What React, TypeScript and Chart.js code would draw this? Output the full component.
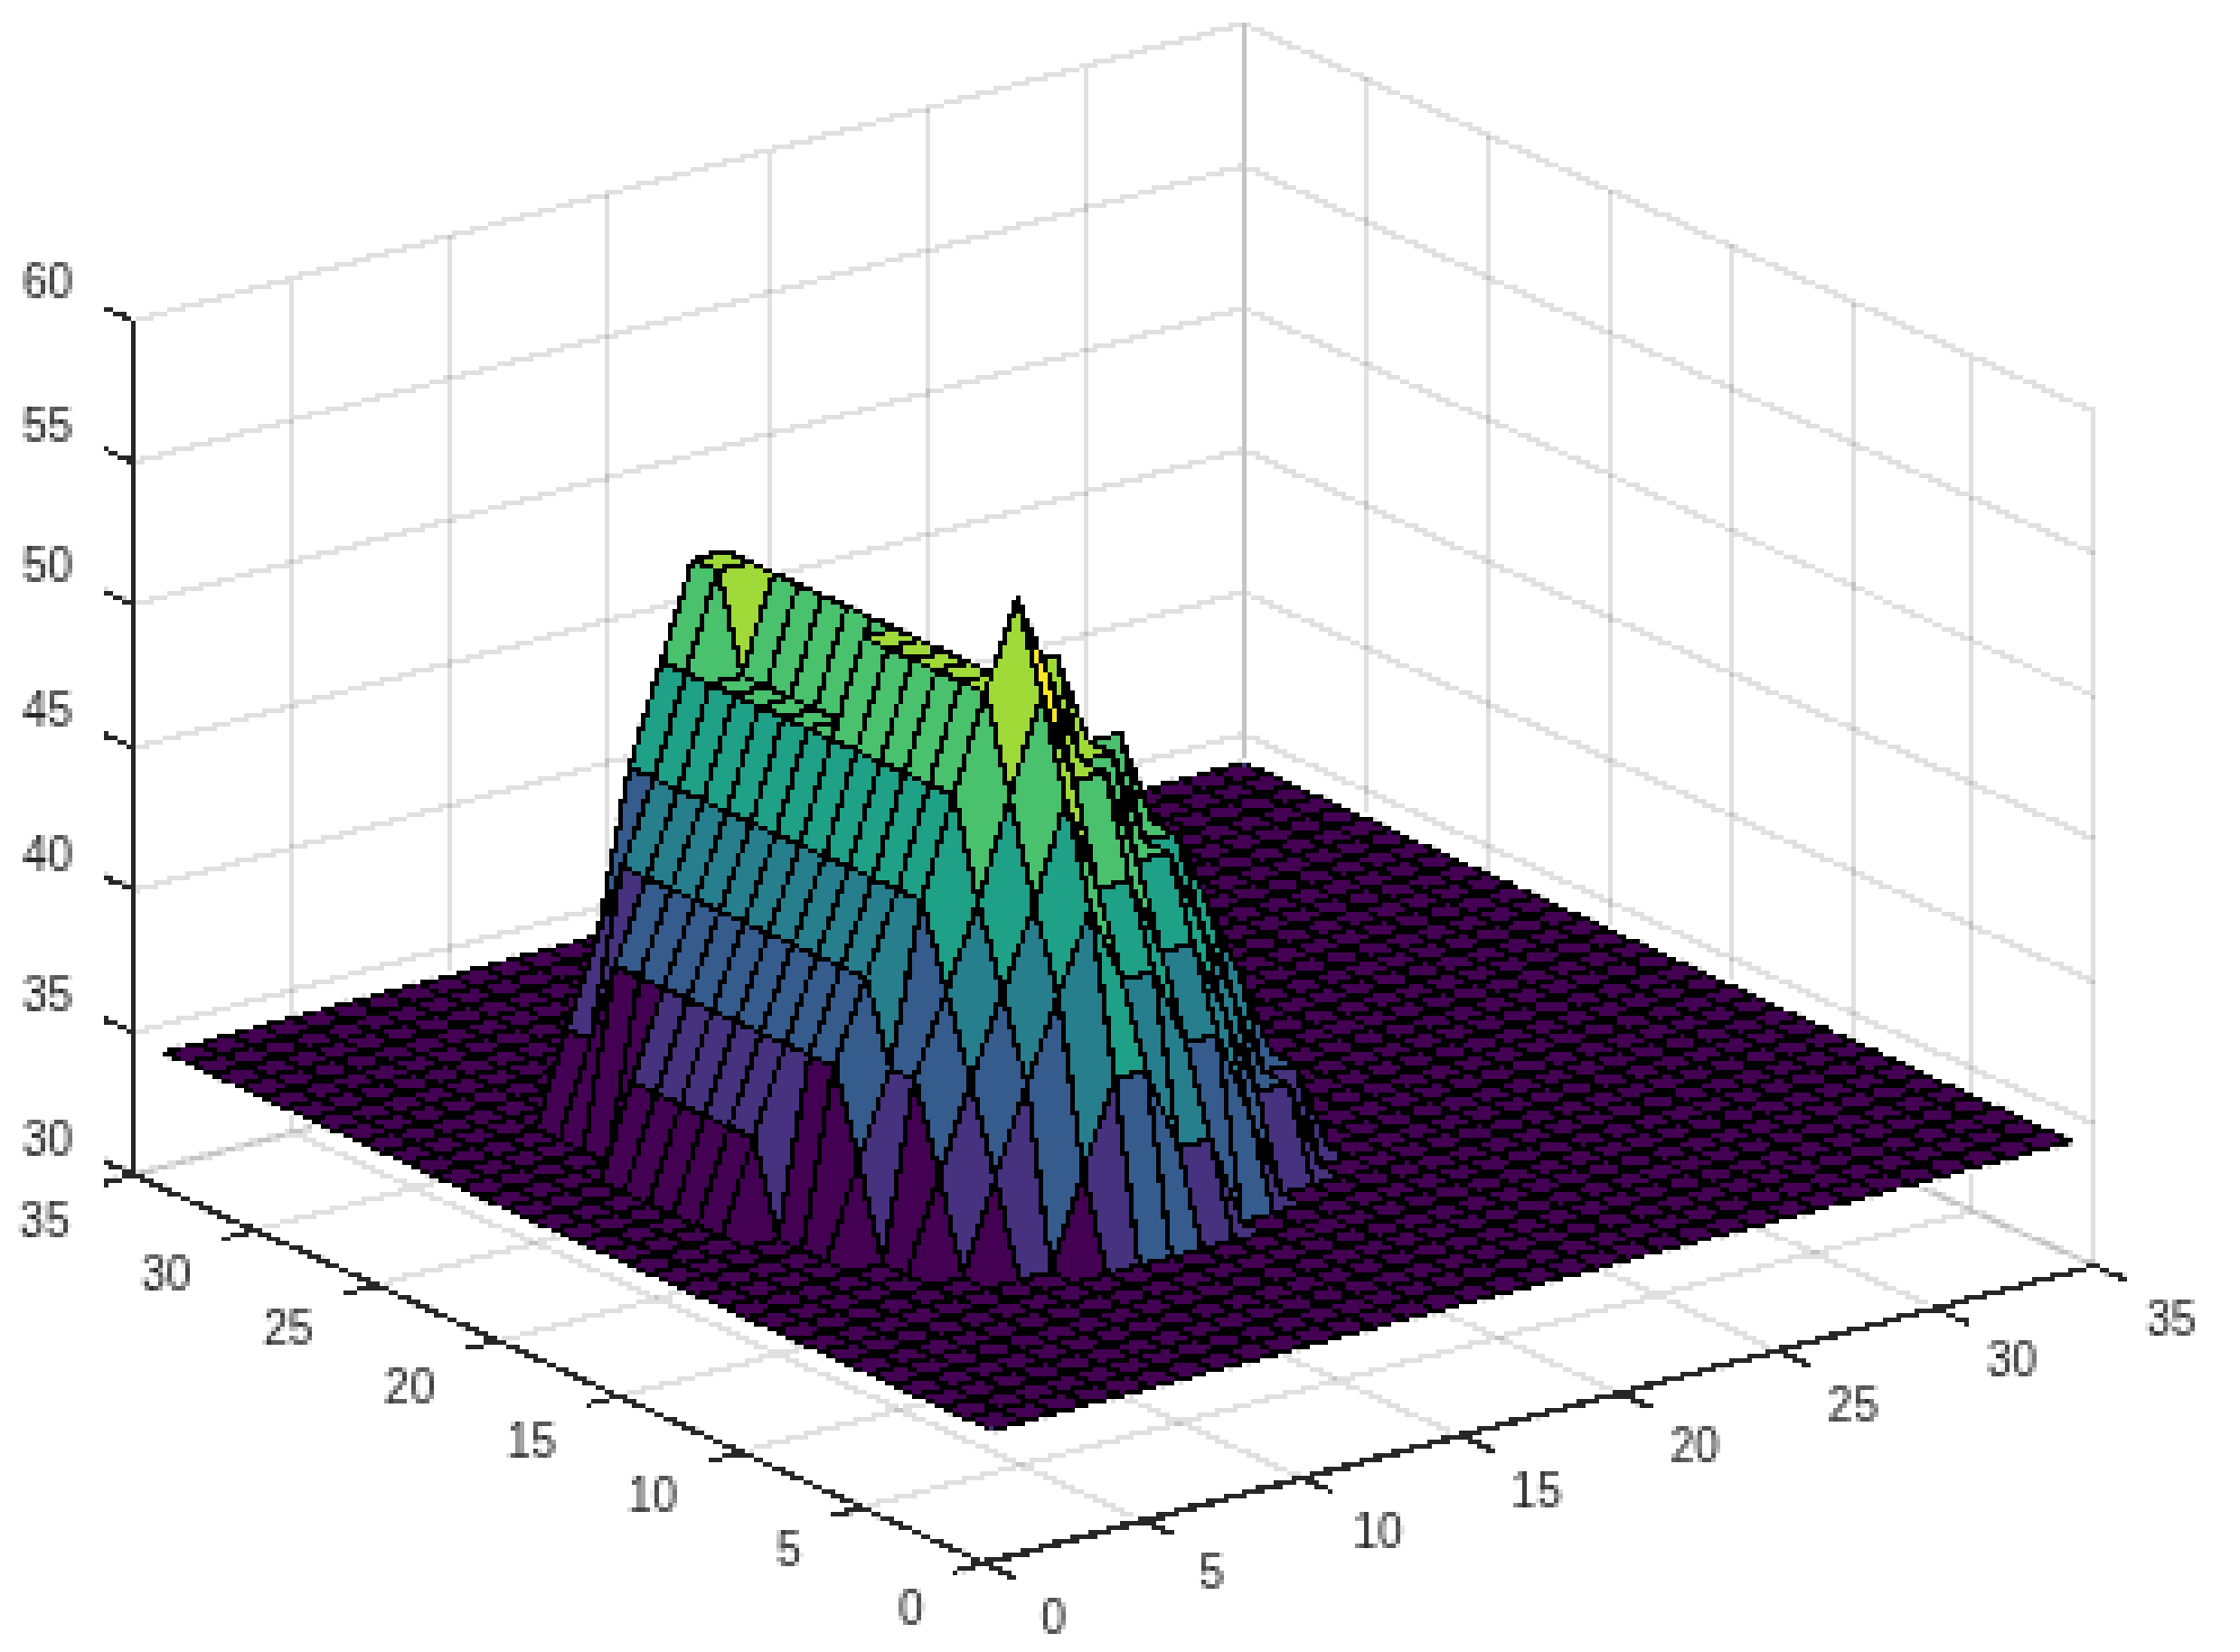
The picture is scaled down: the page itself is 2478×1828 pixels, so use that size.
import React, { useEffect, useRef } from "react";
import { Chart, registerables } from "chart.js";

Chart.register(...registerables);

// ---------- data ----------
const xTicks = [0, 5, 10, 15, 20, 25, 30, 35];
const yTicks = [0, 5, 10, 15, 20, 25, 30, 35];
const zTicks = [30, 35, 40, 45, 50, 55, 60];
const surfaceStart = 1;
const surfaceCount = 35;
// Height level per grid point: each string is one y row, each character one x (missing = 0).
const heightRows = [
  "0", "0", "0", "0", "0", "0", "0", "0",
  "00000000012211",
  "0000000123433221",
  "000000123454433211",
  "0000002345655443211",
  "0000012456765544321",
  "0000023456666554321",
  "0000023456654321",
  "0000123456654321",
  "0000123456654321",
  "0000123456654321",
  "0000123455654321",
  "0000123455654321",
  "0000123455654321",
  "0000023455654321",
  "0000023455654321",
  "0000013456654321",
  "0000012456654321",
  "0", "0", "0", "0", "0", "0", "0", "0", "0", "0",
];
const levelHeights = [34, 37.2, 40.2, 43, 45.8, 49.2, 52.5, 55.5];
const levelColors = ["#440154", "#46327e", "#365c8d", "#277f8e", "#1fa187", "#4ac16d", "#a0da39", "#fde725"];

// ---------- view ----------
const WIDTH = 2478;
const HEIGHT = 1828;
const LOW_W = 496;
const LOW_H = 366;
const origin = [1089, 1730];
const xStep = [35.1, -9.4];
const yStep = [-26.9, -12.29];
const zStep = -31.5;
const zFloor = 30;
const zTop = 60;
const axisMax = 35;
const gridColor = "rgba(38,38,38,0.15)";
const axisColor = "#262626";

type P3 = [number, number, number];
const project = ([x, y, z]: P3) => ({
  x: origin[0] + x * xStep[0] + y * yStep[0],
  y: origin[1] + x * xStep[1] + y * yStep[1] + (z - zFloor) * zStep,
});
const level = (i: number, j: number) => Number((heightRows[j] ?? "0")[i] ?? "0");
const height = (i: number, j: number) => levelHeights[level(i, j)];

function lineSet(points: P3[], color: string) {
  let data = points.map(project);
  // a vertical line sits on one pixel column of the low-resolution canvas
  if (Math.abs(data[0].x - data[1].x) < 1e-6) {
    const cell = WIDTH / LOW_W;
    const snapped = (Math.floor(data[0].x / cell) + 0.5) * cell;
    data = data.map((p) => ({ x: snapped, y: p.y }));
  }
  return {
    data,
    borderColor: color,
    borderWidth: 1.05,
    pointRadius: 0,
    tension: 0,
    fill: false,
  };
}

function buildDatasets() {
  const axes: any[] = [];
  axes.push(lineSet([[0, 0, zFloor], [axisMax, 0, zFloor]], axisColor));
  axes.push(lineSet([[0, 0, zFloor], [0, axisMax, zFloor]], axisColor));
  axes.push(lineSet([[0, axisMax, zFloor], [0, axisMax, zTop]], axisColor));
  xTicks.forEach((t) => axes.push(lineSet([[t, 0, zFloor], [t, -1.35, zFloor]], axisColor)));
  yTicks.forEach((t) => axes.push(lineSet([[0, t, zFloor], [-1, t, zFloor]], axisColor)));
  zTicks.forEach((t) => axes.push(lineSet([[0, axisMax, t], [0, axisMax + 1.3, t]], axisColor)));

  // cells sit front to back: the first dataset is painted last
  const cells: any[] = [];
  for (let i = 0; i < surfaceCount - 1; i++) {
    for (let j = 0; j < surfaceCount - 1; j++) {
      const x = surfaceStart + i;
      const y = surfaceStart + j;
      const pts: P3[] = [
        [x, y, height(i, j)],
        [x + 1, y, height(i + 1, j)],
        [x + 1, y + 1, height(i + 1, j + 1)],
        [x, y + 1, height(i, j + 1)],
        [x, y, height(i, j)],
      ];
      cells.push({
        data: pts.map(project),
        borderColor: "#000000",
        backgroundColor: levelColors[level(i, j + 1)],
        borderWidth: 1,
        borderJoinStyle: "round",
        pointRadius: 0,
        tension: 0,
        fill: "shape",
      });
    }
  }

  const grid: any[] = [];
  xTicks.forEach((t) => {
    grid.push(lineSet([[t, 0, zFloor], [t, axisMax, zFloor]], gridColor));
    grid.push(lineSet([[t, axisMax, zFloor], [t, axisMax, zTop]], gridColor));
  });
  yTicks.forEach((t) => {
    grid.push(lineSet([[0, t, zFloor], [axisMax, t, zFloor]], gridColor));
    grid.push(lineSet([[axisMax, t, zFloor], [axisMax, t, zTop]], gridColor));
  });
  zTicks.forEach((t) => {
    grid.push(lineSet([[0, axisMax, t], [axisMax, axisMax, t]], gridColor));
    grid.push(lineSet([[axisMax, axisMax, t], [axisMax, 0, t]], gridColor));
  });
  return { datasets: [...axes, ...cells, ...grid], firstCell: axes.length };
}

// ---------- hard-edged pixels, like the reference ----------
const paletteRGB = levelColors.map((c) => [
  parseInt(c.slice(1, 3), 16),
  parseInt(c.slice(3, 5), 16),
  parseInt(c.slice(5, 7), 16),
]);

function hardenSurface(chart: any) {
  const { ctx, width, height: h } = chart;
  const img = ctx.getImageData(0, 0, width, h);
  const d = img.data;
  const src = new Uint8ClampedArray(d);
  for (let p = 0; p < d.length; p += 4) {
    const r = src[p], g = src[p + 1], b = src[p + 2];
    const gray = Math.abs(r - g) < 8 && Math.abs(g - b) < 8;
    let out: number[];
    if (gray) {
      const v = (r + g + b) / 3;
      if (v < 125) out = [0, 0, 0];
      else {
        const idx = p / 4;
        const nb = [idx - 1, idx + 1, idx - width, idx + width];
        const nearDark = nb.some((n) => {
          const q = n * 4;
          return q >= 0 && q < d.length && src[q] + src[q + 1] + src[q + 2] < 300;
        });
        if (nearDark && v < 215) out = [255, 255, 255];
        else if (v > 241) out = [255, 255, 255];
        else if (v >= 212) out = [224, 224, 224];
        else out = [196, 196, 196];
      }
    } else {
      let best = paletteRGB[0], bestT = 0, bestE = Infinity;
      for (const c of paletteRGB) {
        const cc = c[0] * c[0] + c[1] * c[1] + c[2] * c[2];
        const t = Math.min(1, Math.max(0, (r * c[0] + g * c[1] + b * c[2]) / cc));
        const e = (r - t * c[0]) ** 2 + (g - t * c[1]) ** 2 + (b - t * c[2]) ** 2;
        if (e < bestE) { bestE = e; best = c; bestT = t; }
      }
      out = bestT < 0.5 ? [0, 0, 0] : best;
    }
    d[p] = out[0]; d[p + 1] = out[1]; d[p + 2] = out[2]; d[p + 3] = 255;
  }
  ctx.putImageData(img, 0, 0);
}

function hardenAxes(chart: any) {
  const { ctx, width, height: h } = chart;
  const img = ctx.getImageData(0, 0, width, h);
  const d = img.data;
  for (let p = 0; p < d.length; p += 4) {
    const r = d[p], g = d[p + 1], b = d[p + 2];
    if (Math.abs(r - g) > 8 || Math.abs(g - b) > 8) continue;
    if (r === 0 || r === 255 || r === 224 || r === 196) continue;
    const v = r < 150 ? 38 : 255;
    d[p] = d[p + 1] = d[p + 2] = v;
  }
  ctx.putImageData(img, 0, 0);
}

export default function App() {
  const ref = useRef<HTMLCanvasElement>(null);
  useEffect(() => {
    const canvas = ref.current;
    if (!canvas) return;
    document.body.style.margin = "0";
    const { datasets, firstCell } = buildDatasets();

    const finish = {
      id: "finish",
      beforeDraw(chart: any) {
        const { ctx, width, height: h } = chart;
        ctx.save();
        ctx.fillStyle = "#ffffff";
        ctx.fillRect(0, 0, width, h);
        ctx.restore();
      },
      afterDatasetDraw(chart: any, args: any) {
        if (args.index === firstCell) hardenSurface(chart);
      },
      afterDatasetsDraw(chart: any) {
        hardenAxes(chart);
      },
      afterDraw(chart: any) {
        const { ctx, scales } = chart;
        const put = (text: string, p: P3, dx: number, dy: number) => {
          const q = project(p);
          ctx.fillText(text, scales.x.getPixelForValue(q.x + dx), scales.y.getPixelForValue(q.y + dy));
        };
        ctx.save();
        ctx.font = '10px "Liberation Sans"';
        ctx.fillStyle = axisColor;
        ctx.textAlign = "center";
        ctx.textBaseline = "middle";
        xTicks.forEach((t) => put(String(t), [t, 0, zFloor], t < 10 ? 76 : 84, 63));
        yTicks.forEach((t) => put(String(t), [0, t, zFloor], t < 10 ? -81 : -98, 53));
        zTicks.forEach((t) => put(String(t), [0, axisMax, t], -95, -37));
        ctx.restore();
      },
    };

    const chart = new Chart(canvas, {
      type: "line",
      data: { datasets },
      plugins: [finish],
      options: {
        animation: false,
        responsive: false,
        devicePixelRatio: 1,
        events: [],
        parsing: false as any,
        normalized: false,
        clip: false as any,
        layout: { padding: 0 },
        elements: { line: { capBezierPoints: false } },
        plugins: {
          legend: { display: false },
          tooltip: { enabled: false },
          title: { display: false },
          filler: { drawTime: "beforeDatasetDraw", propagate: false },
        },
        scales: {
          x: { type: "linear", min: 0, max: WIDTH, display: false },
          y: { type: "linear", min: 0, max: HEIGHT, reverse: true, display: false },
        },
      } as any,
    });
    return () => chart.destroy();
  }, []);

  return (
    <div style={{ position: "absolute", left: 0, top: 0, width: WIDTH, height: HEIGHT, background: "#fff" }}>
      <canvas
        ref={ref}
        width={LOW_W}
        height={LOW_H}
        style={{ width: WIDTH, height: HEIGHT, display: "block", imageRendering: "pixelated" }}
      />
    </div>
  );
}
